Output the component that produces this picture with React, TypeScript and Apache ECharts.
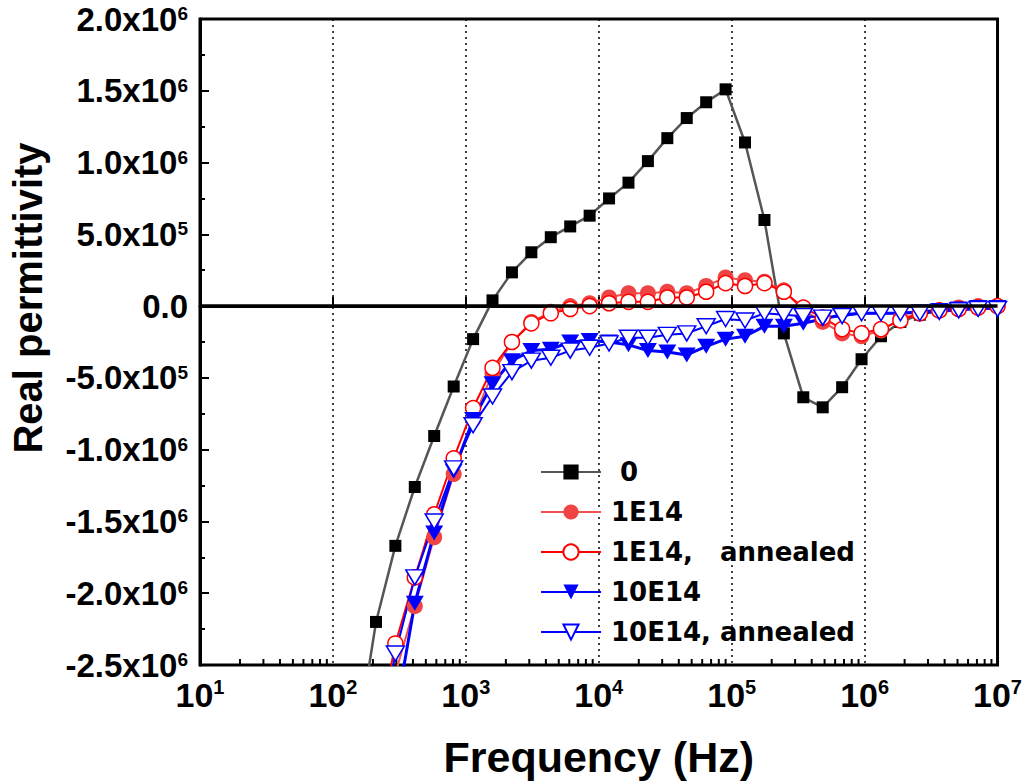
import React, { useEffect, useRef } from "react";
import * as echarts from "echarts";

// Measurement frequencies (Hz), log-spaced
const freqHz = [
  151, 211, 295, 413, 578, 810, 1134, 1587, 2222, 3111, 4356, 6098, 8537, 11952,
  16733, 23426, 32796, 45915, 64281, 89993, 125990, 176386, 246940, 345716,
  484003, 677604, 948645, 1328103, 1859344, 2603082, 3644315, 5102041, 7142857,
  10000000,
];

// Real permittivity for each sample
const perm0 = [
  -3.05e6, -2.2e6, -1.67e6, -1.26e6, -0.905e6, -0.56e6, -0.23e6, 0.04e6, 0.235e6,
  0.375e6, 0.48e6, 0.555e6, 0.63e6, 0.75e6, 0.86e6, 1.01e6, 1.17e6, 1.31e6,
  1.42e6, 1.51e6, 1.14e6, 0.6e6, -0.19e6, -0.635e6, -0.705e6, -0.565e6, -0.37e6,
  -0.21e6, -0.11e6, -0.06e6, -0.03e6, -0.02e6, -0.01e6, 0,
];
const perm1E14 = [
  null, -3.3e6, -2.56e6, -2.09e6, -1.61e6, -1.17e6, -0.79e6, -0.47e6, -0.25e6,
  -0.11e6, -0.04e6, 0, 0.02e6, 0.06e6, 0.09e6, 0.09e6, 0.1e6, 0.09e6, 0.14e6,
  0.2e6, 0.18e6, 0.17e6, 0.11e6, -0.03e6, -0.11e6, -0.19e6, -0.21e6, -0.17e6,
  -0.09e6, -0.05e6, -0.03e6, -0.01e6, 0, 0,
];
const perm1E14Ann = [
  null, -3.05e6, -2.35e6, -1.89e6, -1.45e6, -1.06e6, -0.71e6, -0.43e6, -0.25e6,
  -0.12e6, -0.05e6, -0.02e6, 0, 0.02e6, 0.03e6, 0.03e6, 0.06e6, 0.06e6, 0.1e6,
  0.16e6, 0.14e6, 0.16e6, 0.1e6, -0.01e6, -0.08e6, -0.16e6, -0.19e6, -0.16e6,
  -0.1e6, -0.05e6, -0.03e6, -0.02e6, -0.01e6, 0,
];
const perm10E14 = [
  null, -3.4e6, -2.85e6, -2.07e6, -1.58e6, -1.15e6, -0.79e6, -0.54e6, -0.38e6,
  -0.31e6, -0.3e6, -0.25e6, -0.24e6, -0.25e6, -0.27e6, -0.31e6, -0.32e6, -0.34e6,
  -0.28e6, -0.23e6, -0.21e6, -0.14e6, -0.14e6, -0.12e6, -0.09e6, -0.06e6, -0.05e6,
  -0.05e6, -0.05e6, -0.04e6, -0.03e6, -0.02e6, -0.01e6, -0.01e6,
];
const perm10E14Ann = [
  null, -3.2e6, -2.42e6, -1.89e6, -1.5e6, -1.13e6, -0.83e6, -0.63e6, -0.46e6,
  -0.38e6, -0.36e6, -0.31e6, -0.29e6, -0.26e6, -0.22e6, -0.22e6, -0.2e6, -0.19e6,
  -0.14e6, -0.09e6, -0.1e6, -0.05e6, -0.06e6, -0.07e6, -0.08e6, -0.07e6, -0.05e6,
  -0.05e6, -0.05e6, -0.05e6, -0.04e6, -0.03e6, -0.02e6, -0.02e6,
];

const seriesNames = [
  "\u00a00",
  "1E14",
  "1E14,\u00a0\u00a0\u00a0annealed",
  "10E14",
  "10E14, annealed",
];

// Minor tick positions of the log frequency axis (2..9 x 10^n)
const minorTickHz = [
  20, 30, 40, 50, 60, 70, 80, 90,
  200, 300, 400, 500, 600, 700, 800, 900,
  2000, 3000, 4000, 5000, 6000, 7000, 8000, 9000,
  20000, 30000, 40000, 50000, 60000, 70000, 80000, 90000,
  200000, 300000, 400000, 500000, 600000, 700000, 800000, 900000,
  2000000, 3000000, 4000000, 5000000, 6000000, 7000000, 8000000, 9000000,
];

const Y_MIN = -2.5e6;
const Y_MAX = 2.0e6;

const ARIAL = "'Liberation Sans', Arial, sans-serif";
const WIDE = "'DejaVu Sans', Verdana, sans-serif";

function pairs(values: (number | null)[]) {
  return values.map((v, i) => [freqHz[i], v]);
}

function yLabel(v: number) {
  if (Math.abs(v) < 1) return "{b|0.0}";
  const exp = Math.abs(v) >= 1e6 ? 6 : 5;
  const mant = (v / Math.pow(10, exp)).toFixed(1);
  return `{b|${mant}x10}{s|${exp}}`;
}

function xLabel(v: number) {
  const exp = Math.round(Math.log10(v));
  return `{b|10}{s|${exp}}`;
}

export default function App() {
  const ref = useRef<HTMLDivElement>(null);

  useEffect(() => {
    if (!ref.current) return;
    const chart = echarts.init(ref.current, undefined, { renderer: "svg" });

    const baseLine = (name: string, data: any, extra: any) => ({
      name,
      type: "line",
      data: pairs(data),
      showSymbol: true,
      showAllSymbol: true,
      clip: true,
      connectNulls: false,
      emphasis: { disabled: true },
      ...extra,
    });

    chart.setOption({
      animation: false,
      backgroundColor: "#fff",
      grid: {
        left: 196,
        right: 24,
        top: 19,
        bottom: 118,
        show: true,
        borderColor: "#000",
        borderWidth: 3,
        backgroundColor: "transparent",
      },
      legend: {
        orient: "vertical",
        left: 535,
        top: 454,
        itemWidth: 60,
        itemHeight: 19,
        itemGap: 14,
        data: seriesNames,
        selectedMode: false,
        textStyle: {
          fontFamily: WIDE,
          fontWeight: "bold",
          fontSize: 26,
          color: "#000",
          lineHeight: 26,
          padding: [0, 0, 0, 5],
        },
      },
      xAxis: {
        type: "log",
        logBase: 10,
        min: 10,
        max: 1e7,
        name: "Frequency (Hz)",
        nameLocation: "middle",
        nameGap: 70,
        nameTextStyle: {
          fontFamily: ARIAL,
          fontWeight: "bold",
          fontSize: 43,
          color: "#000",
        },
        axisLine: { show: true, lineStyle: { color: "#000", width: 3 } },
        axisTick: { show: true, inside: true, length: 9, lineStyle: { color: "#000", width: 2 } },
        splitLine: {
          show: true,
          lineStyle: { color: "#000", width: 1.5, type: [2, 4] },
        },
        axisLabel: {
          margin: 12,
          formatter: xLabel,
          rich: {
            b: { fontFamily: ARIAL, fontWeight: "bold", fontSize: 34, lineHeight: 36, color: "#000" },
            s: {
              fontFamily: ARIAL,
              fontWeight: "bold",
              fontSize: 20,
              lineHeight: 20,
              verticalAlign: "top",
              color: "#000",
            },
          },
        },
      },
      yAxis: {
        type: "value",
        min: Y_MIN,
        max: Y_MAX,
        interval: 5e5,
        name: "Real permittivity",
        nameLocation: "middle",
        nameGap: 152,
        nameRotate: 90,
        nameTextStyle: {
          fontFamily: ARIAL,
          fontWeight: "bold",
          fontSize: 40,
          color: "#000",
          padding: [0, 0, 0, 88],
        },
        axisLine: { show: true, lineStyle: { color: "#000", width: 3 } },
        axisTick: { show: true, inside: true, length: 9, lineStyle: { color: "#000", width: 2 } },
        minorTick: { show: true, splitNumber: 2, length: 5, lineStyle: { color: "#000", width: 2 } },
        splitLine: { show: false },
        axisLabel: {
          margin: 12,
          formatter: yLabel,
          rich: {
            b: { fontFamily: ARIAL, fontWeight: "bold", fontSize: 33, lineHeight: 30, color: "#000" },
            s: {
              fontFamily: ARIAL,
              fontWeight: "bold",
              fontSize: 19,
              lineHeight: 19,
              verticalAlign: "top",
              color: "#000",
            },
          },
        },
      },
      series: [
        {
          name: "minorTicks",
          type: "custom",
          silent: true,
          data: minorTickHz.map((f) => [f, Y_MIN]),
          renderItem: (params: any, api: any) => {
            const p = api.coord([api.value(0), api.value(1)]);
            return {
              type: "line",
              shape: { x1: p[0], y1: p[1], x2: p[0], y2: p[1] - 6 },
              style: { stroke: "#000", lineWidth: 2 },
            };
          },
          z: 1,
        },
        baseLine(seriesNames[0], perm0, {
          symbol: "rect",
          symbolSize: 12,
          itemStyle: { color: "#000" },
          lineStyle: { color: "#555", width: 2.5 },
          markLine: {
            silent: true,
            symbol: ["none", "none"],
            label: { show: false },
            lineStyle: { color: "#000", width: 3.5, type: "solid" },
            emphasis: { disabled: true },
            data: [{ yAxis: 0 }],
          },
        }),
        baseLine(seriesNames[1], perm1E14, {
          symbol: "circle",
          symbolSize: 16,
          itemStyle: { color: "#f04444" },
          lineStyle: { color: "#f05050", width: 2 },
        }),
        baseLine(seriesNames[2], perm1E14Ann, {
          symbol: "circle",
          symbolSize: 15,
          itemStyle: { color: "#fff", borderColor: "#ff0000", borderWidth: 1.5 },
          lineStyle: { color: "#ff0000", width: 2 },
        }),
        baseLine(seriesNames[3], perm10E14, {
          symbol: "triangle",
          symbolRotate: 180,
          symbolSize: [18, 15],
          itemStyle: { color: "#0000ff" },
          lineStyle: { color: "#0000ff", width: 3 },
        }),
        baseLine(seriesNames[4], perm10E14Ann, {
          symbol: "triangle",
          symbolRotate: 180,
          symbolSize: [18, 15],
          itemStyle: { color: "#fff", borderColor: "#0000ff", borderWidth: 1.5 },
          lineStyle: { color: "#0000ff", width: 2 },
        }),
      ],
    });

    return () => chart.dispose();
  }, []);

  return (
    <div
      ref={ref}
      style={{ position: "fixed", left: 0, top: 0, width: 1025, height: 783, background: "#fff" }}
    />
  );
}
